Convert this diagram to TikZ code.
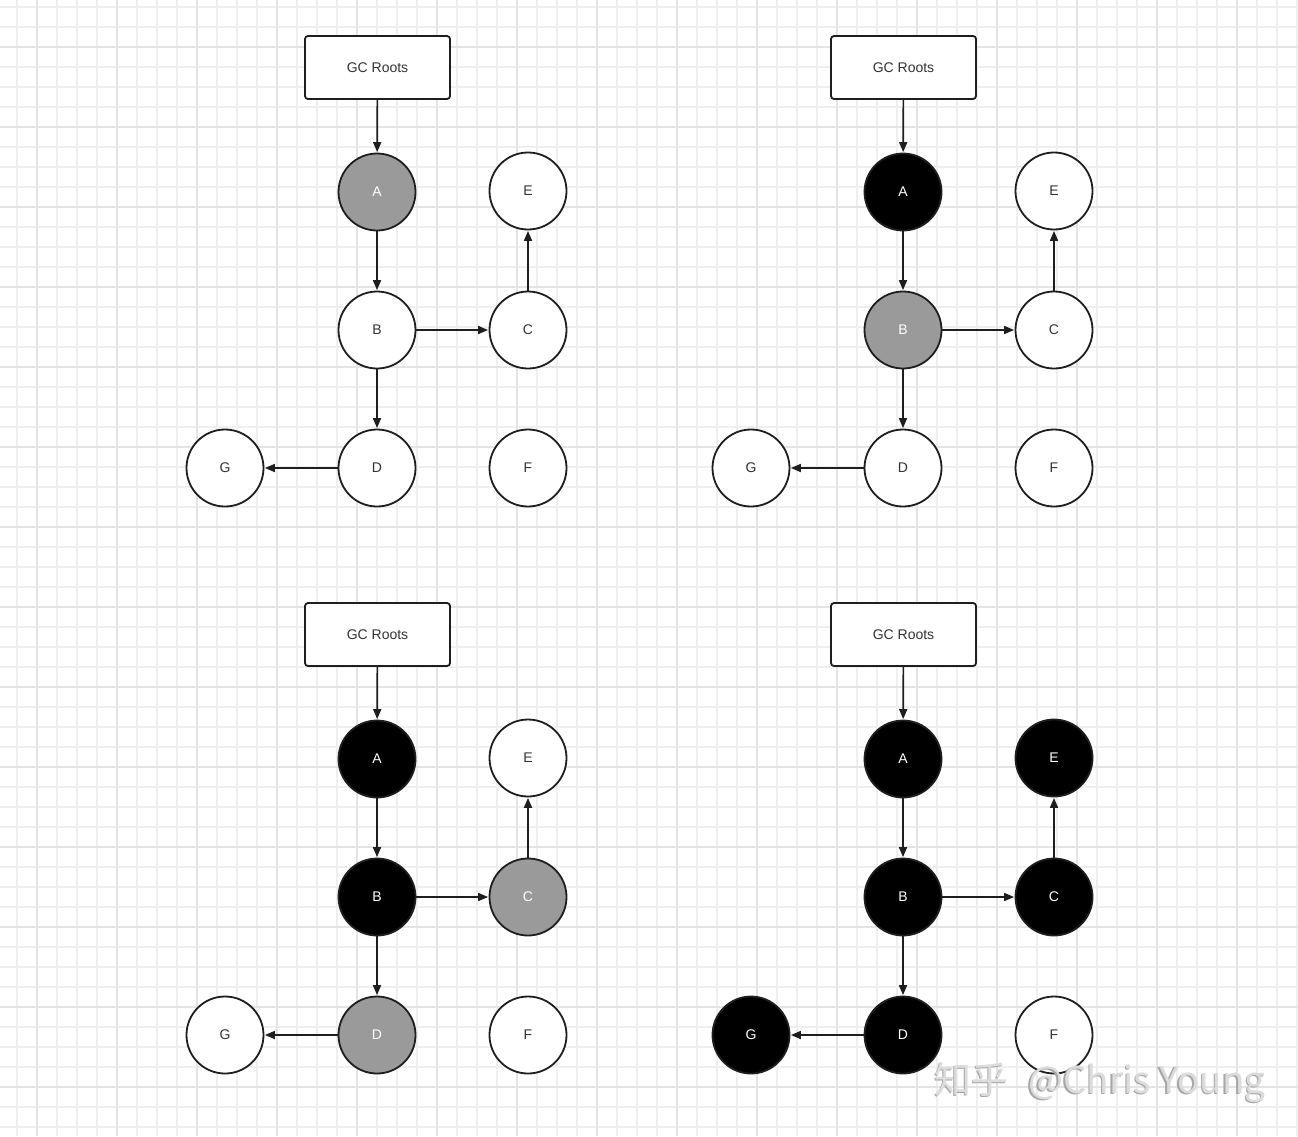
\documentclass[tikz,border=0pt]{standalone}
\usepackage{fontspec}
\setmainfont{Liberation Sans}
\newfontfamily\cjk{Noto Sans CJK SC}
\usetikzlibrary{arrows.meta}
\definecolor{gridminor}{HTML}{EFEFEF}
\definecolor{gridmajor}{HTML}{E4E4E4}
\definecolor{stroke}{HTML}{1E1E1E}
\definecolor{grayfill}{HTML}{9A9A9A}
\definecolor{txt}{HTML}{333333}
\definecolor{wmlight}{HTML}{DCDCDC}
\definecolor{wmdark}{HTML}{A6A6A6}
\newcommand\gcpanel[9]{%
\begin{scope}[shift={#2}]
\node[gcbox] (#1r) at (377.5,67.5) {GC Roots};
\node[#3] (#1A) at (377,192) {A};
\node[#4] (#1B) at (377,330) {B};
\node[#5] (#1C) at (528,330) {C};
\node[#6] (#1D) at (377,468) {D};
\node[#7] (#1E) at (528,191) {E};
\node[#8] (#1F) at (528,468) {F};
\node[#9] (#1G) at (225,468) {G};
\draw[arr] (#1r) -- (#1A);
\draw[arr] (#1A) -- (#1B);
\draw[arr] (#1B) -- (#1C);
\draw[arr] (#1C) -- (#1E);
\draw[arr] (#1B) -- (#1D);
\draw[arr] (#1D) -- (#1G);
\end{scope}}
\begin{document}
\begin{tikzpicture}[x=1pt,y=-1pt,
  gcbox/.style={draw=stroke,line width=1.8pt,rounded corners=3pt,fill=white,
    minimum width=145pt,minimum height=63pt,inner sep=0pt,text=txt,
    font=\fontsize{14}{16}\selectfont},
  obj/.style={circle,draw=stroke,line width=1.8pt,fill=white,minimum size=77pt,
    inner sep=0pt,text=txt,font=\fontsize{14}{16}\selectfont},
  objgray/.style={obj,fill=grayfill,text=white},
  objblack/.style={obj,fill=black,text=white},
  arr/.style={draw=stroke,line width=1.7pt,-{Triangle[length=10pt,width=8pt]},shorten >=0.5pt},
  minor/.style={draw=gridminor,line width=1.2pt},
  major/.style={draw=gridmajor,line width=1.6pt},
  wm/.style={font=\cjk\fontsize{37}{40}\selectfont,anchor=base west,inner sep=0pt}]
\useasboundingbox (0,0) rectangle (1298,1136);
\fill[white] (0,0) rectangle (1298,1136);
\foreach \x in {17,37,...,1297} \draw[minor] (\x,0) -- (\x,1136);
\foreach \y in {7,27,...,1136} \draw[minor] (0,\y) -- (1298,\y);
\foreach \x in {37,117,...,1297} \draw[major] (\x,0) -- (\x,1136);
\foreach \y in {47,127,...,1136} \draw[major] (0,\y) -- (1298,\y);
\gcpanel{p}{(0,0)}{objgray}{obj}{obj}{obj}{obj}{obj}{obj}
\gcpanel{q}{(526,0)}{objblack}{objgray}{obj}{obj}{obj}{obj}{obj}
\gcpanel{s}{(0,567)}{objblack}{objblack}{objgray}{objgray}{obj}{obj}{obj}
\gcpanel{t}{(526,567)}{objblack}{objblack}{objblack}{objblack}{objblack}{obj}{objblack}
\node[wm,text=wmdark] (wmzhs) at (933,1094.5) {知乎};
\node[wm,text=wmdark] (wmnames) at (1026.5,1094.5) {@Chris Young};
\node[wm,text=wmlight] (wmzh) at (934.5,1093) {知乎};
\node[wm,text=wmlight] (wmname) at (1028,1093) {@Chris Young};
\end{tikzpicture}
\end{document}
